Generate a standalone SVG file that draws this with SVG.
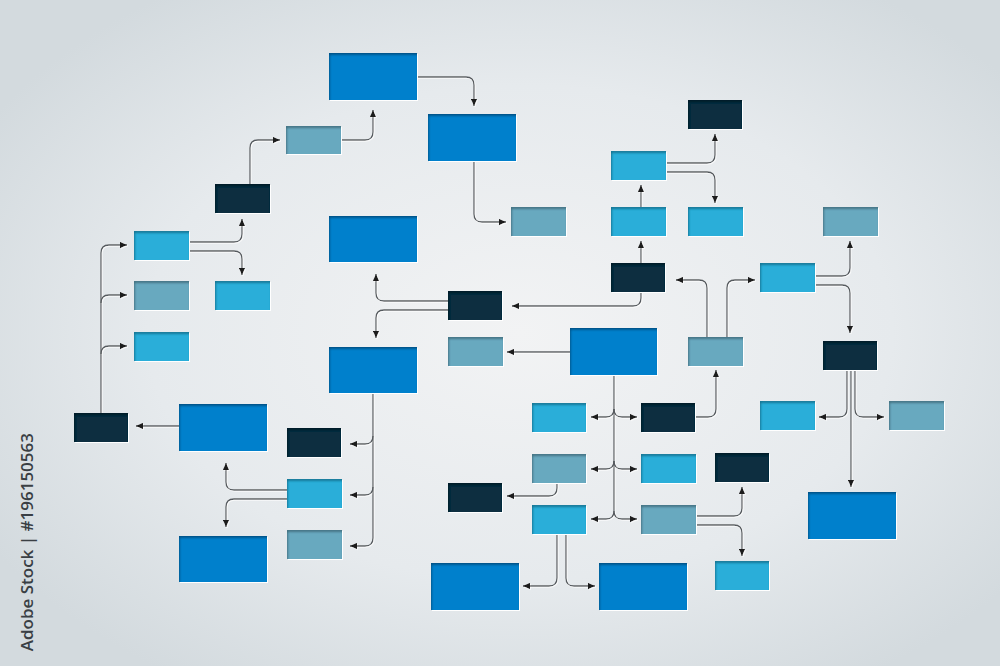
<svg xmlns="http://www.w3.org/2000/svg" width="1000" height="666" viewBox="0 0 1000 666">
<defs>
<radialGradient id="bg" cx="0.52" cy="0.5" r="0.62">
<stop offset="0" stop-color="#f2f3f4"/>
<stop offset="0.6" stop-color="#e6eaed"/>
<stop offset="1" stop-color="#d3dade"/>
</radialGradient>
<filter id="inset" x="-10%" y="-10%" width="120%" height="120%">
<feFlood flood-color="#000" flood-opacity="0.6" result="f"/>
<feComposite in="f" in2="SourceAlpha" operator="out" result="inv"/>
<feGaussianBlur in="inv" stdDeviation="1.1" result="b"/>
<feOffset in="b" dx="1.4" dy="1.6" result="o"/>
<feComposite in="o" in2="SourceAlpha" operator="in" result="s"/>
<feMerge><feMergeNode in="SourceGraphic"/><feMergeNode in="s"/></feMerge>
</filter>
<filter id="emb" x="-5%" y="-5%" width="110%" height="110%">
<feDropShadow dx="0.8" dy="0.8" stdDeviation="0.3" flood-color="#fff" flood-opacity="0.9"/>
</filter>
<marker id="ar" viewBox="0 0 10 10" refX="10" refY="5" markerWidth="7" markerHeight="7" markerUnits="userSpaceOnUse" orient="auto">
<path d="M0,0.5 L10,5 L0,9.5 Z" fill="#1a1a1a"/>
</marker>
<style>
.hl{fill:#ffffff}
.big{fill:#0080cc;filter:url(#inset)}
.cy{fill:#29aed9;filter:url(#inset)}
.gr{fill:#68a9bf;filter:url(#inset)}
.nv{fill:#0a2d3f;filter:url(#inset)}
.c path{fill:none;stroke:#555a5e;stroke-width:1.3}
.c path.a{marker-end:url(#ar)}
.id{font-family:"Open Sans","Liberation Sans",sans-serif;font-weight:600;font-size:17px;fill:#3a3f44}
</style>
</defs>
<rect width="1000" height="666" fill="url(#bg)"/>

<g id="connectors" class="c" filter="url(#emb)">
<path class="a" d="M417,77 H466 Q474,77 474,85 V106"/>
<path class="a" d="M341,140 H365 Q373,140 373,132 V110"/>
<path class="a" d="M250,184 V148 Q250,140 258,140 H280"/>
<path class="a" d="M189,242 H234 Q242,242 242,234 V219"/>
<path class="a" d="M189,251 H234 Q242,251 242,259 V275"/>
<path class="a" d="M101,413 V253 Q101,245 109,245 H127"/>
<path class="a" d="M101,303 Q101,295 109,295 H127"/>
<path class="a" d="M101,354 Q101,346 109,346 H127"/>
<path class="a" d="M179,426 H136"/>
<path class="a" d="M373,393 V538 Q373,546 365,546 H350"/>
<path class="a" d="M373,436 Q373,444 365,444 H350"/>
<path class="a" d="M373,487 Q373,495 365,495 H350"/>
<path class="a" d="M287,490 H234 Q226,490 226,482 V463"/>
<path class="a" d="M287,499 H234 Q226,499 226,507 V527"/>
<path class="a" d="M448,301 H384 Q376,301 376,293 V274"/>
<path class="a" d="M448,310 H384 Q376,310 376,318 V338"/>
<path class="a" d="M641,292 V298 Q641,306 633,306 H512"/>
<path class="a" d="M641,263 V241"/>
<path class="a" d="M641,207 V185"/>
<path class="a" d="M666,163 H707 Q715,163 715,155 V134"/>
<path class="a" d="M666,172 H707 Q715,172 715,180 V203"/>
<path class="a" d="M474,161 V214 Q474,222 482,222 H506"/>
<path class="a" d="M707,337 V288 Q707,280 699,280 H676"/>
<path class="a" d="M727,337 V288 Q727,280 735,280 H755"/>
<path class="a" d="M815,276 H842 Q850,276 850,268 V241"/>
<path class="a" d="M815,285 H842 Q850,285 850,293 V333"/>
<path class="a" d="M847,370 V409 Q847,417 839,417 H819"/>
<path class="a" d="M855,370 V409 Q855,417 863,417 H884"/>
<path class="a" d="M851,370 V487"/>
<path class="a" d="M570,352 H507"/>
<path d="M614,375 V511"/>
<path class="a" d="M614,409 Q614,417 606,417 H591"/>
<path class="a" d="M614,409 Q614,417 622,417 H637"/>
<path class="a" d="M614,461 Q614,469 606,469 H591"/>
<path class="a" d="M614,461 Q614,469 622,469 H637"/>
<path class="a" d="M614,511 Q614,519 606,519 H591"/>
<path class="a" d="M614,511 Q614,519 622,519 H637"/>
<path class="a" d="M695,417 H708 Q716,417 716,409 V370"/>
<path class="a" d="M557,483 V488 Q557,496 549,496 H507"/>
<path class="a" d="M696,516 H734 Q742,516 742,508 V487"/>
<path class="a" d="M696,525 H734 Q742,525 742,533 V556"/>
<path class="a" d="M557,534 V578 Q557,586 549,586 H523"/>
<path class="a" d="M566,534 V578 Q566,586 574,586 H595"/>
</g>

<g id="n1"><rect class="hl" x="330" y="54" width="88" height="47"/><rect class="big" x="329" y="53" width="88" height="47"/></g>
<g id="n2"><rect class="hl" x="429" y="115" width="88" height="47"/><rect class="big" x="428" y="114" width="88" height="47"/></g>
<g id="n3"><rect class="hl" x="287" y="127" width="55" height="28"/><rect class="gr" x="286" y="126" width="55" height="28"/></g>
<g id="n4"><rect class="hl" x="216" y="185" width="55" height="29"/><rect class="nv" x="215" y="184" width="55" height="29"/></g>
<g id="n5"><rect class="hl" x="135" y="232" width="55" height="29"/><rect class="cy" x="134" y="231" width="55" height="29"/></g>
<g id="n6"><rect class="hl" x="135" y="282" width="55" height="29"/><rect class="gr" x="134" y="281" width="55" height="29"/></g>
<g id="n7"><rect class="hl" x="216" y="282" width="55" height="29"/><rect class="cy" x="215" y="281" width="55" height="29"/></g>
<g id="n8"><rect class="hl" x="135" y="333" width="55" height="29"/><rect class="cy" x="134" y="332" width="55" height="29"/></g>
<g id="n9"><rect class="hl" x="330" y="217" width="88" height="46"/><rect class="big" x="329" y="216" width="88" height="46"/></g>
<g id="n10"><rect class="hl" x="512" y="208" width="55" height="29"/><rect class="gr" x="511" y="207" width="55" height="29"/></g>
<g id="n11"><rect class="hl" x="449" y="292" width="54" height="29"/><rect class="nv" x="448" y="291" width="54" height="29"/></g>
<g id="n12"><rect class="hl" x="689" y="101" width="54" height="29"/><rect class="nv" x="688" y="100" width="54" height="29"/></g>
<g id="n13"><rect class="hl" x="612" y="152" width="55" height="29"/><rect class="cy" x="611" y="151" width="55" height="29"/></g>
<g id="n14"><rect class="hl" x="612" y="208" width="55" height="29"/><rect class="cy" x="611" y="207" width="55" height="29"/></g>
<g id="n15"><rect class="hl" x="689" y="208" width="55" height="29"/><rect class="cy" x="688" y="207" width="55" height="29"/></g>
<g id="n16"><rect class="hl" x="824" y="208" width="55" height="29"/><rect class="gr" x="823" y="207" width="55" height="29"/></g>
<g id="n17"><rect class="hl" x="612" y="264" width="54" height="29"/><rect class="nv" x="611" y="263" width="54" height="29"/></g>
<g id="n18"><rect class="hl" x="761" y="264" width="55" height="29"/><rect class="cy" x="760" y="263" width="55" height="29"/></g>
<g id="n19"><rect class="hl" x="689" y="338" width="55" height="29"/><rect class="gr" x="688" y="337" width="55" height="29"/></g>
<g id="n20"><rect class="hl" x="824" y="342" width="54" height="29"/><rect class="nv" x="823" y="341" width="54" height="29"/></g>
<g id="n21"><rect class="hl" x="571" y="329" width="87" height="47"/><rect class="big" x="570" y="328" width="87" height="47"/></g>
<g id="n22"><rect class="hl" x="449" y="338" width="55" height="29"/><rect class="gr" x="448" y="337" width="55" height="29"/></g>
<g id="n23"><rect class="hl" x="533" y="404" width="54" height="29"/><rect class="cy" x="532" y="403" width="54" height="29"/></g>
<g id="n24"><rect class="hl" x="642" y="404" width="54" height="29"/><rect class="nv" x="641" y="403" width="54" height="29"/></g>
<g id="n25"><rect class="hl" x="533" y="455" width="54" height="29"/><rect class="gr" x="532" y="454" width="54" height="29"/></g>
<g id="n26"><rect class="hl" x="642" y="455" width="55" height="29"/><rect class="cy" x="641" y="454" width="55" height="29"/></g>
<g id="n27"><rect class="hl" x="449" y="484" width="54" height="29"/><rect class="nv" x="448" y="483" width="54" height="29"/></g>
<g id="n28"><rect class="hl" x="533" y="506" width="54" height="29"/><rect class="cy" x="532" y="505" width="54" height="29"/></g>
<g id="n29"><rect class="hl" x="642" y="506" width="55" height="29"/><rect class="gr" x="641" y="505" width="55" height="29"/></g>
<g id="n30"><rect class="hl" x="716" y="454" width="54" height="29"/><rect class="nv" x="715" y="453" width="54" height="29"/></g>
<g id="n31"><rect class="hl" x="716" y="562" width="54" height="29"/><rect class="cy" x="715" y="561" width="54" height="29"/></g>
<g id="n32"><rect class="hl" x="432" y="564" width="88" height="47"/><rect class="big" x="431" y="563" width="88" height="47"/></g>
<g id="n33"><rect class="hl" x="600" y="564" width="88" height="47"/><rect class="big" x="599" y="563" width="88" height="47"/></g>
<g id="n34"><rect class="hl" x="761" y="402" width="55" height="29"/><rect class="cy" x="760" y="401" width="55" height="29"/></g>
<g id="n35"><rect class="hl" x="890" y="402" width="55" height="29"/><rect class="gr" x="889" y="401" width="55" height="29"/></g>
<g id="n36"><rect class="hl" x="809" y="493" width="88" height="47"/><rect class="big" x="808" y="492" width="88" height="47"/></g>
<g id="n37"><rect class="hl" x="75" y="414" width="54" height="29"/><rect class="nv" x="74" y="413" width="54" height="29"/></g>
<g id="n38"><rect class="hl" x="180" y="405" width="88" height="47"/><rect class="big" x="179" y="404" width="88" height="47"/></g>
<g id="n39"><rect class="hl" x="330" y="348" width="88" height="46"/><rect class="big" x="329" y="347" width="88" height="46"/></g>
<g id="n40"><rect class="hl" x="288" y="429" width="54" height="29"/><rect class="nv" x="287" y="428" width="54" height="29"/></g>
<g id="n41"><rect class="hl" x="288" y="480" width="55" height="29"/><rect class="cy" x="287" y="479" width="55" height="29"/></g>
<g id="n42"><rect class="hl" x="288" y="531" width="55" height="29"/><rect class="gr" x="287" y="530" width="55" height="29"/></g>
<g id="n43"><rect class="hl" x="180" y="537" width="88" height="46"/><rect class="big" x="179" y="536" width="88" height="46"/></g>

<text class="id" transform="translate(33,433) rotate(-90)" text-anchor="end">Adobe Stock | #196150563</text>
</svg>
